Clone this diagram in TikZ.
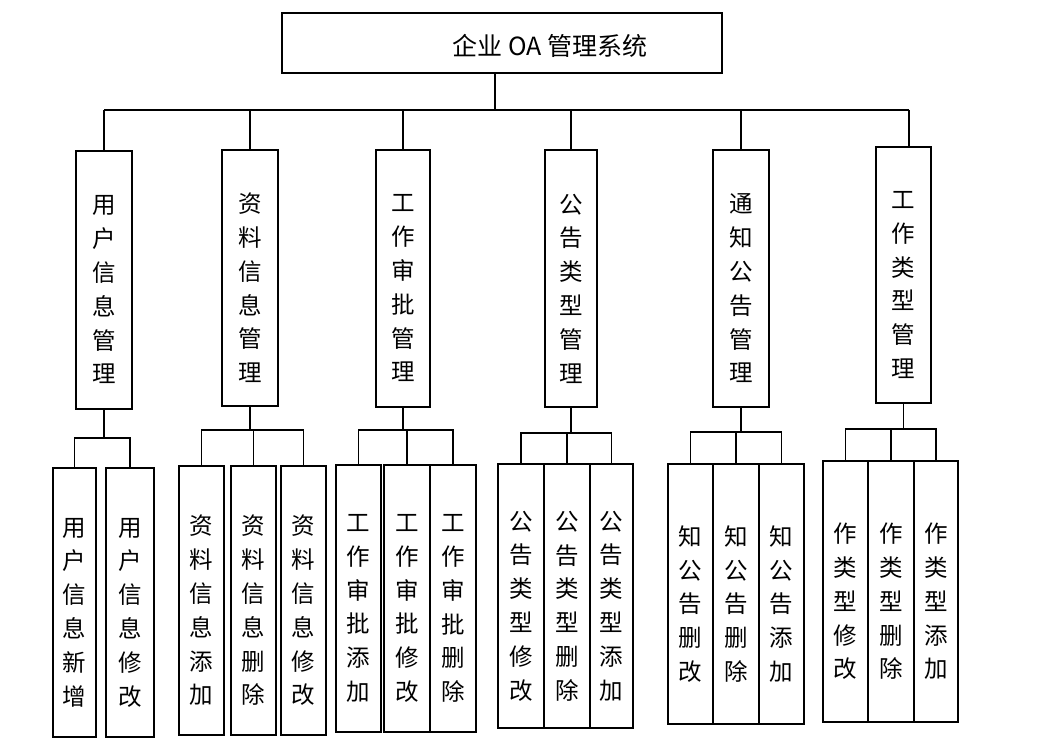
\documentclass[tikz,border=0pt]{standalone}
\usepackage{fontspec}
\newfontfamily\cjk{Noto Sans CJK SC}
\begin{document}
\begin{tikzpicture}[x=1pt,y=1pt,
  box/.style={draw,line width=1.3pt,inner sep=0pt},
  txt/.style={align=center,inner sep=0pt,font=\cjk\fontsize{23.5}{33.8}\selectfont},
  conn/.style={line width=1.3pt}]
\newcommand\bx[5]{\node[box,minimum width=#2,minimum height=#3] (#1) at #4 {};
  \node[txt] (#1t) at ([yshift=-10pt]#1.center) {#5};}
\useasboundingbox[fill=white] (0,0) rectangle (1042,-741);
\node[box,minimum width=440,minimum height=60] (root) at (502,-43) {};
\node[txt,font=\cjk\fontsize{25}{30}\selectfont] (roott) at (550,-46) {企业 OA 管理系统};
% level 2
\bx{a}{56}{258}{(104,-280)}{用\\户\\信\\息\\管\\理}
\bx{b}{56}{256}{(250,-278)}{资\\料\\信\\息\\管\\理}
\bx{c}{54}{257}{(403,-278.5)}{工\\作\\审\\批\\管\\理}
\bx{d}{52}{257}{(571,-278.5)}{公\\告\\类\\型\\管\\理}
\bx{e}{56}{257}{(741,-278.5)}{通\\知\\公\\告\\管\\理}
\bx{f}{55}{256}{(903.5,-275)}{工\\作\\类\\型\\管\\理}
\coordinate (top) at (0,-110);
\draw[conn] (root.south -| 495,0) -- (495,-110);
\draw[conn] (a.north|-top) -- (909,-110);
\foreach \n in {a,b,c,d,e} \draw[conn] (\n.north|-top) -- (\n.north);
\draw[conn] (909,-110) -- (909,-147);
% level 3
\bx{a1}{43}{269}{(74.5,-602.5)}{用\\户\\信\\息\\新\\增}
\bx{a2}{48}{269}{(130,-602.5)}{用\\户\\信\\息\\修\\改}
\bx{b1}{45}{269}{(201.5,-600.5)}{资\\料\\信\\息\\添\\加}
\bx{b2}{45}{269}{(253.5,-600.5)}{资\\料\\信\\息\\删\\除}
\bx{b3}{45}{269}{(303.5,-600.5)}{资\\料\\信\\息\\修\\改}
\bx{c1}{45}{267}{(358.5,-598.5)}{工\\作\\审\\批\\添\\加}
\bx{c2}{46}{267}{(407,-598.5)}{工\\作\\审\\批\\修\\改}
\bx{c3}{46}{267}{(453,-598.5)}{工\\作\\审\\批\\删\\除}
\bx{d1}{46}{264}{(521,-596)}{公\\告\\类\\型\\修\\改}
\bx{d2}{46}{264}{(567,-596)}{公\\告\\类\\型\\删\\除}
\bx{d3}{43}{264}{(611.5,-596)}{公\\告\\类\\型\\添\\加}
\bx{e1}{45}{260}{(690.5,-594)}{知\\公\\告\\删\\改}
\bx{e2}{46}{260}{(736,-594)}{知\\公\\告\\删\\除}
\bx{e3}{45}{260}{(781.5,-594)}{知\\公\\告\\添\\加}
\bx{f1}{45}{261}{(845.5,-591.5)}{作\\类\\型\\修\\改}
\bx{f2}{46}{261}{(891,-591.5)}{作\\类\\型\\删\\除}
\bx{f3}{44}{261}{(936,-591.5)}{作\\类\\型\\添\\加}
\coordinate (ha) at (0,-438);
\coordinate (hb) at (0,-430);
\coordinate (hc) at (0,-430);
\coordinate (hd) at (0,-433);
\coordinate (he) at (0,-432);
\coordinate (hf) at (0,-429);
\draw[conn] (a.south) -- (a.south|-ha);
\draw[conn] (a1.north) -- (a1.north|-ha) -- (a2.north|-ha) -- (a2.north);
\foreach \g in {b,c,d,e,f}{
  \draw[conn] (\g.south) -- (\g.south|-h\g);
  \draw[conn] (\g1.north) -- (\g1.north|-h\g) -- (\g3.north|-h\g) -- (\g3.north);
  \draw[conn] (\g2.north|-h\g) -- (\g2.north);
}
\end{tikzpicture}
\end{document}
